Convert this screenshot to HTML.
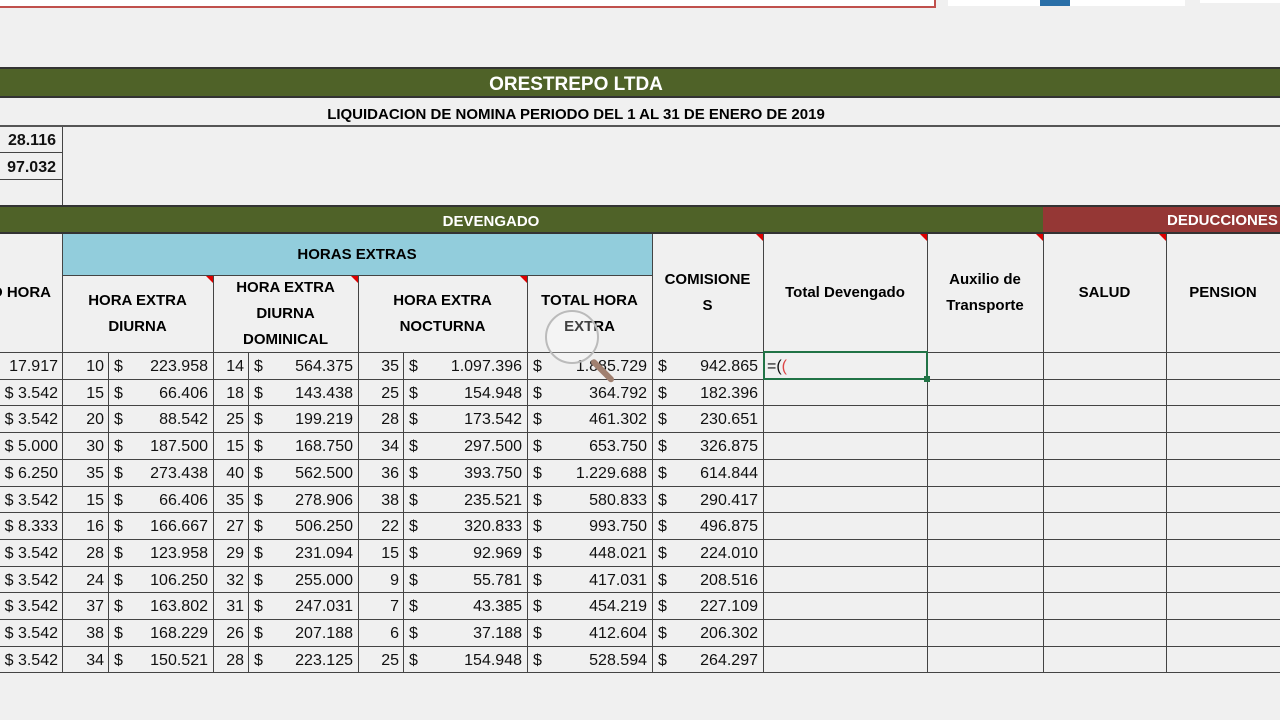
<!DOCTYPE html>
<html><head><meta charset="utf-8"><style>
body{margin:0;width:1280px;height:720px;background:#f0f0f0;position:relative;overflow:hidden;font-family:"Liberation Sans",sans-serif;}
.a{position:absolute;box-sizing:border-box;}
.t{position:absolute;box-sizing:border-box;font-size:15px;color:#111;white-space:nowrap;overflow:hidden;}
.h{font-weight:bold;text-align:center;display:flex;align-items:center;justify-content:center;line-height:26px;font-size:15px;}
.hl{position:absolute;height:1px;background:#444;}
.vl{position:absolute;width:1px;background:#444;}
</style></head><body>
<div class="a" style="left:-2px;top:-4px;width:938px;height:12px;background:#fff;border:2px solid #c0504d;"></div>
<div class="a" style="left:948px;top:0;width:237px;height:6px;background:#fff;"></div>
<div class="a" style="left:1040px;top:0;width:30px;height:6px;background:#2a6fa8;"></div>
<div class="a" style="left:1200px;top:0;width:80px;height:3px;background:#fff;"></div>

<div class="a" style="left:0;top:67px;width:1280px;height:31px;background:#4f6228;border-top:2px solid #333;border-bottom:2px solid #333;"></div>
<div class="a h" style="left:376px;top:69px;width:400px;height:29px;color:#fff;font-size:19px;padding-top:2px;">ORESTREPO LTDA</div>
<div class="a" style="left:0;top:98px;width:1280px;height:29px;border-bottom:2px solid #555;"></div>
<div class="a h" style="left:176px;top:99px;width:800px;height:29px;font-size:15px;padding-top:2px;">LIQUIDACION DE NOMINA PERIODO DEL 1 AL 31 DE ENERO DE 2019</div>
<div class="t" style="left:0;top:132px;width:56px;text-align:right;font-weight:bold;font-size:16px;">28.116</div>
<div class="t" style="left:0;top:159px;width:56px;text-align:right;font-weight:bold;font-size:16px;">97.032</div>
<div class="hl" style="left:0;top:152px;width:62px;"></div>
<div class="hl" style="left:0;top:179px;width:62px;"></div>
<div class="vl" style="left:62px;top:127px;height:80px;"></div>

<div class="a" style="left:0;top:205px;width:1043px;height:29px;background:#4f6228;border-top:2px solid #333;border-bottom:2px solid #333;"></div>
<div class="a h" style="left:291px;top:207px;width:400px;height:27px;color:#fff;padding-top:2px;">DEVENGADO</div>
<div class="a h" style="left:1043px;top:205px;width:237px;height:29px;background:#953735;color:#fff;border-top:2px solid #333;border-bottom:2px solid #333;justify-content:flex-start;padding-left:124px;padding-top:2px;">DEDUCCIONES</div>
<div class="a h" style="left:62px;top:234px;width:590px;height:41px;background:#92cddc;">HORAS EXTRAS</div>
<div id="g"></div>
<script>
var g=document.getElementById('g'),H='';
function d(s){H+=s;}
function ht(x,w,y,h,txt){d('<div class="a h" style="left:'+x+'px;top:'+y+'px;width:'+w+'px;height:'+h+'px;">'+txt+'</div>');}
ht(-20,82,234,118,'O HORA');
ht(62,151,276,76,'HORA EXTRA<br>DIURNA');
ht(213,145,276,76,'HORA EXTRA<br>DIURNA<br>DOMINICAL');
ht(358,169,276,76,'HORA EXTRA<br>NOCTURNA');
ht(527,125,276,76,'TOTAL HORA<br>EXTRA');
ht(652,111,234,118,'COMISIONE<br>S');
ht(763,164,234,118,'Total Devengado');
ht(927,116,234,118,'Auxilio de<br>Transporte');
ht(1043,123,234,118,'SALUD');
ht(1166,114,234,118,'PENSION');
d('<div class="hl" style="left:62px;top:275px;width:590px;"></div>');
[62,652,763,927,1043,1166].forEach(function(x){d('<div class="vl" style="left:'+x+'px;top:234px;height:438px;"></div>');});
[213,358,527].forEach(function(x){d('<div class="vl" style="left:'+x+'px;top:275px;height:397px;"></div>');});
[108,248,403].forEach(function(x){d('<div class="vl" style="left:'+x+'px;top:352px;height:320px;"></div>');});
[213,358,527,763,927,1043,1166].forEach(function(x){var y=(x<652)?276:234;d('<div class="a" style="left:'+(x-7)+'px;top:'+y+'px;width:0;height:0;border-top:7px solid #d00;border-left:7px solid transparent;"></div>');});
var rows=[
['17.917',10,'223.958',14,'564.375',35,'1.097.396','1.885.729','942.865'],
['$ 3.542',15,'66.406',18,'143.438',25,'154.948','364.792','182.396'],
['$ 3.542',20,'88.542',25,'199.219',28,'173.542','461.302','230.651'],
['$ 5.000',30,'187.500',15,'168.750',34,'297.500','653.750','326.875'],
['$ 6.250',35,'273.438',40,'562.500',36,'393.750','1.229.688','614.844'],
['$ 3.542',15,'66.406',35,'278.906',38,'235.521','580.833','290.417'],
['$ 8.333',16,'166.667',27,'506.250',22,'320.833','993.750','496.875'],
['$ 3.542',28,'123.958',29,'231.094',15,'92.969','448.021','224.010'],
['$ 3.542',24,'106.250',32,'255.000',9,'55.781','417.031','208.516'],
['$ 3.542',37,'163.802',31,'247.031',7,'43.385','454.219','227.109'],
['$ 3.542',38,'168.229',26,'207.188',6,'37.188','412.604','206.302'],
['$ 3.542',34,'150.521',28,'223.125',25,'154.948','528.594','264.297']];
function tx(x,w,y,s,al){d('<div class="t" style="left:'+x+'px;top:'+(y+6)+'px;width:'+w+'px;text-align:'+al+';font-size:16px;">'+s+'</div>');}
for(var i=0;i<12;i++){var y=352+i*26.7,r=rows[i];
 d('<div class="hl" style="left:0;top:'+Math.round(y)+'px;width:1280px;"></div>');
 tx(-20,78,y,r[0],'right');
 tx(62,42,y,r[1],'right');
 tx(114,20,y,'$','left');tx(120,88,y,r[2],'right');
 tx(213,31,y,r[3],'right');
 tx(254,20,y,'$','left');tx(260,93,y,r[4],'right');
 tx(358,41,y,r[5],'right');
 tx(409,20,y,'$','left');tx(420,102,y,r[6],'right');
 tx(533,20,y,'$','left');tx(545,102,y,r[7],'right');
 tx(658,20,y,'$','left');tx(665,93,y,r[8],'right');
}
d('<div class="hl" style="left:0;top:672px;width:1280px;"></div>');
d('<div class="a" style="left:763px;top:351px;width:165px;height:29px;border:2px solid #217346;"></div>');
d('<div class="a" style="left:924px;top:376px;width:6px;height:6px;background:#217346;"></div>');
d('<div class="t" style="left:767px;top:358px;font-size:16px;">=(<span style="color:#d44">(</span></div>');
d('<div class="a" style="left:545px;top:310px;width:54px;height:54px;border-radius:50%;border:2px solid #bbb;background:rgba(255,255,255,0.25);"></div>');
d('<div class="a" style="left:594px;top:358px;width:30px;height:6px;background:#a08070;transform:rotate(45deg);transform-origin:0 0;border-radius:3px;"></div>');
g.innerHTML=H;
</script>
</body></html>
